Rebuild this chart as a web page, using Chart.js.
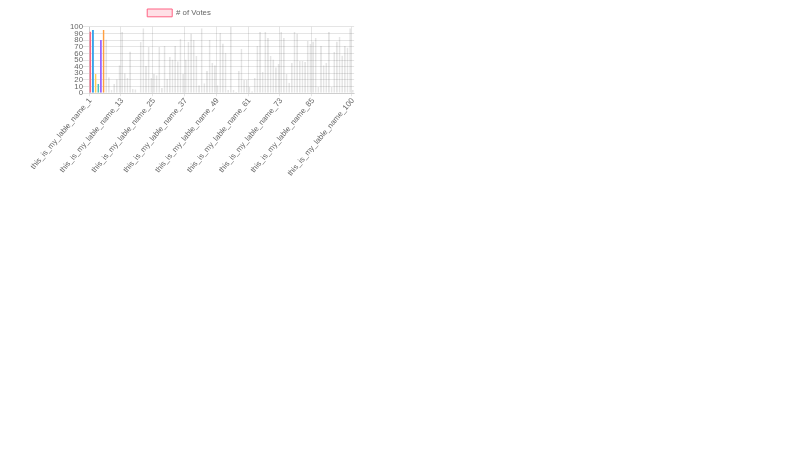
<!DOCTYPE html>
<html>
<head>
<meta charset="utf-8">
<title>Votes</title>
<script src="https://cdn.jsdelivr.net/npm/chart.js@4.4.1/dist/chart.umd.min.js"></script>
<style>
  body { margin: 0; background: #fff; }
  #wrap { position: relative; width: 360px; height: 180px; }
</style>
</head>
<body>
<div id="wrap"><canvas id="myChart"></canvas></div>
<script>
// category names: this_is_my_lable_name_1 ... this_is_my_lable_name_100
const labels = Array.from({ length: 100 }, (_, i) => 'this_is_my_lable_name_' + (i + 1));

// votes, bar by bar
const votes = [
  93, 95, 29, 14, 80, 95, 81, 24, 5, 14,
  21, 42, 92, 30, 23, 63, 7, 6, 1, 77,
  98, 41, 70, 23, 29, 27, 70, 8, 71, 22,
  55, 51, 71, 48, 82, 29, 51, 77, 90, 80,
  56, 12, 98, 15, 34, 80, 46, 42, 12, 91,
  75, 61, 5, 100, 5, 2, 34, 67, 20, 20,
  10, 3, 23, 71, 92, 32, 92, 83, 56, 51,
  39, 44, 92, 83, 29, 16, 46, 92, 90, 49,
  49, 47, 79, 74, 78, 83, 10, 71, 42, 46,
  92, 10, 62, 78, 85, 57, 71, 69, 98, 5
];

// which category labels are printed under the axis (1, 13, 25 ... 85, 100)
const shownTicks = [0, 12, 24, 36, 48, 60, 72, 84, 99];

// first six bars get the colour set, the rest keep the default grey
const fillColors = [
  'rgba(255, 99, 132, 0.2)',
  'rgba(54, 162, 235, 0.2)',
  'rgba(255, 206, 86, 0.2)',
  'rgba(75, 192, 192, 0.2)',
  'rgba(153, 102, 255, 0.2)',
  'rgba(255, 159, 64, 0.2)'
];
const lineColors = [
  'rgba(255, 99, 132, 1)',
  'rgba(54, 162, 235, 1)',
  'rgba(255, 206, 86, 1)',
  'rgba(75, 192, 192, 1)',
  'rgba(153, 102, 255, 1)',
  'rgba(255, 159, 64, 1)'
];
const grey = 'rgba(0, 0, 0, 0.1)';

Chart.defaults.font.family = "'Helvetica Neue', Helvetica, Arial, 'Liberation Sans', sans-serif";
Chart.defaults.font.size = 7.8;
Chart.defaults.color = '#666';

const ctx = document.getElementById('myChart').getContext('2d');
const myChart = new Chart(ctx, {
    type: 'bar',
    data: {
        labels: labels,
        datasets: [{
            label: '# of Votes',
            data: votes,
            backgroundColor: votes.map((v, i) => fillColors[i] || grey),
            borderColor: votes.map((v, i) => lineColors[i] || grey),
            borderWidth: 1
        }]
    },
    options: {
        responsive: true,
        maintainAspectRatio: false,
        animation: false,
        layout: { padding: { top: 4, right: 2, left: 0, bottom: 2 } },
        plugins: {
            legend: {
                display: true,
                labels: { boxWidth: 25, boxHeight: 7.8, padding: 5 }
            },
            tooltip: { enabled: true }
        },
        scales: {
            x: {
                grid: {
                    color: (c) => shownTicks.includes(c.index) ? grey : 'rgba(0,0,0,0)',
                    tickLength: 3
                },
                ticks: {
                    autoSkip: false,
                    maxRotation: 50,
                    minRotation: 50,
                    padding: 0,
                    callback: function (value, index) {
                        return shownTicks.includes(index) ? this.getLabelForValue(value) : '';
                    }
                }
            },
            y: {
                beginAtZero: true,
                max: 100,
                grid: { color: grey, tickLength: 6 },
                ticks: { stepSize: 10, autoSkip: false, padding: 0 },
                // wide y axis so the first rotated x label has room, like the original
                afterFit: (scale) => { scale.width = 89; }
            }
        }
    }
});
</script>
</body>
</html>
